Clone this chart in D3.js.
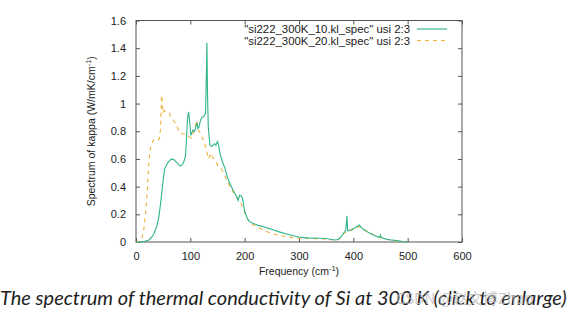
<!DOCTYPE html>
<html lang="en">
<head>
<meta charset="UTF-8">
<title>Spectrum of kappa</title>
<script src="https://cdnjs.cloudflare.com/ajax/libs/d3/7.8.5/d3.min.js"></script>
<style>
  body { margin: 0; background: #fff; }
  svg { display: block; }
</style>
</head>
<body>
<svg id="chart" width="581" height="323"></svg>
<script>
// series 1: "si222_300K_10.kl_spec" usi 2:3
const freq10 = [0, 8, 16, 24, 30, 33, 38, 42, 45, 48, 51, 53, 58, 65, 70, 76, 81, 85, 88, 91, 93, 95, 97, 99, 101, 103, 105, 108, 110, 112, 114, 116, 118, 121, 124, 128, 129.5, 130.5, 131.5, 133, 136, 139, 142, 145, 147, 150, 152, 154, 158, 161, 164, 168, 173, 178, 182, 185, 188, 191, 194, 196, 198, 200, 205, 209, 215, 225, 234, 247, 262, 277, 299, 315, 338, 350, 358, 365, 372, 378, 382, 386, 387.5, 388.3, 389.5, 393, 397, 402, 406, 411, 414, 418, 425, 432, 440, 447, 449, 450, 451, 455, 461, 470, 480, 488, 492, 500];
const kappa10 = [0, 0, 0.005, 0.015, 0.04, 0.06, 0.11, 0.18, 0.27, 0.375, 0.48, 0.53, 0.57, 0.6, 0.595, 0.57, 0.55, 0.555, 0.58, 0.62, 0.75, 0.9, 0.94, 0.86, 0.77, 0.79, 0.81, 0.8, 0.83, 0.86, 0.82, 0.83, 0.87, 0.9, 0.905, 0.93, 1.2, 1.44, 1.1, 0.83, 0.7, 0.69, 0.7, 0.71, 0.7, 0.725, 0.7, 0.65, 0.59, 0.56, 0.53, 0.47, 0.42, 0.38, 0.35, 0.33, 0.3, 0.34, 0.33, 0.315, 0.27, 0.22, 0.17, 0.147, 0.135, 0.12, 0.11, 0.095, 0.075, 0.058, 0.036, 0.03, 0.027, 0.025, 0.02, 0.015, 0.018, 0.04, 0.063, 0.087, 0.15, 0.19, 0.08, 0.085, 0.087, 0.1, 0.11, 0.123, 0.11, 0.092, 0.075, 0.06, 0.045, 0.034, 0.04, 0.05, 0.035, 0.028, 0.02, 0.015, 0.01, 0.005, 0, 0];

// series 2: "si222_300K_20.kl_spec" usi 2:3
const freq20 = [0, 5, 10, 13, 15, 18, 20, 22, 24, 26, 28, 31, 33, 38, 42, 44, 45.5, 47, 48.5, 49.7, 52, 54.6, 58, 61, 65, 69, 72, 76, 79, 82, 87, 91, 95, 98, 102, 104, 107, 110, 112, 114, 116, 119, 121, 124, 128, 131, 134, 136, 138.6, 141, 143.5, 147, 150, 155, 161, 167, 173, 179, 185, 191, 197, 203, 208, 213, 220, 228, 236, 246, 260, 277, 299, 320, 340, 355, 365, 372, 378, 382, 388, 394, 400, 406, 411, 416, 424, 433, 443, 452, 461, 472, 485, 495];
const kappa20 = [0, 0, 0.015, 0.06, 0.11, 0.22, 0.33, 0.47, 0.59, 0.66, 0.7, 0.73, 0.74, 0.745, 0.74, 0.76, 0.85, 1.06, 1.0, 0.93, 0.95, 0.94, 0.935, 0.93, 0.9, 0.88, 0.86, 0.83, 0.8, 0.785, 0.78, 0.78, 0.77, 0.76, 0.75, 0.77, 0.81, 0.85, 0.88, 0.82, 0.8, 0.785, 0.76, 0.74, 0.69, 0.64, 0.6, 0.62, 0.64, 0.61, 0.6, 0.58, 0.556, 0.54, 0.5, 0.45, 0.4, 0.36, 0.33, 0.29, 0.25, 0.18, 0.15, 0.13, 0.115, 0.099, 0.085, 0.067, 0.05, 0.038, 0.027, 0.025, 0.024, 0.018, 0.013, 0.018, 0.035, 0.06, 0.075, 0.087, 0.099, 0.105, 0.11, 0.1, 0.082, 0.06, 0.043, 0.03, 0.02, 0.01, 0.003, 0];

const xTicks = [0, 100, 200, 300, 400, 500, 600];
const yTicks = [0, 0.2, 0.4, 0.6, 0.8, 1, 1.2, 1.4, 1.6];

const svg = d3.select("#chart");
const plotL = 136, plotR = 462, plotT = 20.5, plotB = 242;
const x = d3.scaleLinear().domain([0, 600]).range([plotL, plotR]);
const y = d3.scaleLinear().domain([0, 1.6]).range([plotB, plotT]);
const tickFont = "'Liberation Sans', Arial, sans-serif";
const frameColor = "#555";

// frame
svg.append("rect")
   .attr("x", plotL).attr("y", plotT)
   .attr("width", plotR - plotL).attr("height", plotB - plotT)
   .attr("fill", "none").attr("stroke", frameColor).attr("stroke-width", 1);

// axes with inward ticks (mirrored like gnuplot)
const tl = 4;
svg.append("g").attr("transform", `translate(0,${plotB})`)
   .call(d3.axisBottom(x).tickValues(xTicks).tickSizeInner(-tl).tickSizeOuter(0).tickPadding(10).tickFormat(d3.format("d")));
svg.append("g").attr("transform", `translate(0,${plotT})`)
   .call(d3.axisTop(x).tickValues(xTicks).tickSizeInner(-tl).tickSizeOuter(0).tickFormat(""));
svg.append("g").attr("transform", `translate(${plotL},0)`)
   .call(d3.axisLeft(y).tickValues(yTicks).tickSizeInner(-tl).tickSizeOuter(0).tickPadding(10).tickFormat(d => String(+d.toFixed(1))));
svg.append("g").attr("transform", `translate(${plotR},0)`)
   .call(d3.axisRight(y).tickValues(yTicks).tickSizeInner(-tl).tickSizeOuter(0).tickFormat(""));

svg.selectAll(".domain").remove();
svg.selectAll(".tick line").attr("stroke", frameColor);
svg.selectAll(".tick text")
   .attr("font-family", tickFont).attr("font-size", 11).attr("fill", "#222");

// lines
const line = d3.line().x(d => x(d[0])).y(d => y(d[1]));
const s10 = d3.zip(freq10, kappa10);
const s20 = d3.zip(freq20, kappa20);
const green = "#2fb48d", orange = "#ecb13a";

svg.append("path").datum(s20)
   .attr("d", line).attr("fill", "none")
   .attr("stroke", orange).attr("stroke-width", 1.1).attr("stroke-dasharray", "4,4");
svg.append("path").datum(s10)
   .attr("d", line).attr("fill", "none")
   .attr("stroke", green).attr("stroke-width", 1.1);

// legend
const legend = [
  { label: "\"si222_300K_10.kl_spec\" usi 2:3", color: green, dash: null },
  { label: "\"si222_300K_20.kl_spec\" usi 2:3", color: orange, dash: "4,4" }
];
legend.forEach((d, i) => {
  const ly = 29 + i * 11.5;
  svg.append("text")
     .attr("x", 410).attr("y", ly + 4)
     .attr("text-anchor", "end")
     .attr("font-family", tickFont).attr("font-size", 11.4).attr("fill", "#222")
     .text(d.label);
  svg.append("line")
     .attr("x1", 417).attr("x2", 447).attr("y1", ly).attr("y2", ly)
     .attr("stroke", d.color).attr("stroke-width", 1.1)
     .attr("stroke-dasharray", d.dash);
});

// axis labels
const yl = svg.append("text")
   .attr("transform", `translate(95,${(plotT + plotB) / 2}) rotate(-90)`)
   .attr("text-anchor", "middle")
   .attr("font-family", tickFont).attr("font-size", 10.5).attr("fill", "#222");
yl.append("tspan").text("Spectrum of kappa (W/mK/cm");
yl.append("tspan").attr("font-size", 7.5).attr("dy", -4).text("-1");
yl.append("tspan").attr("dy", 4).text(")");

const xl = svg.append("text")
   .attr("x", (plotL + plotR) / 2).attr("y", 275)
   .attr("text-anchor", "middle")
   .attr("font-family", tickFont).attr("font-size", 10.5).attr("fill", "#222");
xl.append("tspan").text("Frequency (cm");
xl.append("tspan").attr("font-size", 7.5).attr("dy", -4).text("-1");
xl.append("tspan").attr("dy", 4).text(")");

// caption
svg.append("text")
   .attr("x", 0).attr("y", 305)
   .attr("font-family", "Lato, sans-serif").attr("font-style", "italic")
   .attr("font-size", 20).attr("fill", "#1e1e1e")
   .text("The spectrum of thermal conductivity of Si at 300 K (click to enlarge)");

// watermark (sits over the caption, as in the source image)
svg.append("text")
   .attr("x", 396).attr("y", 304)
   .attr("font-family", "'Noto Sans CJK SC', sans-serif")
   .attr("font-size", 15).attr("fill", "#bbb").attr("fill-opacity", 0.8)
   .text("CSDN @赵文博Zhao");
</script>
</body>
</html>
